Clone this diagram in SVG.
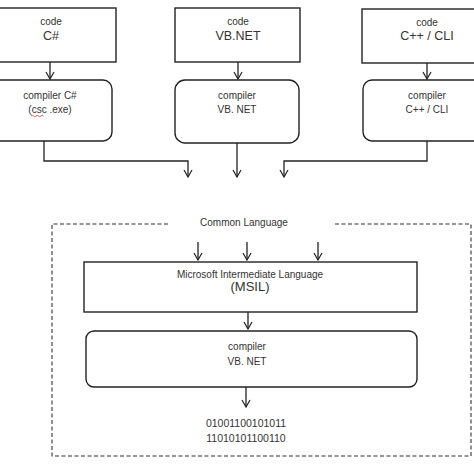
<svg xmlns="http://www.w3.org/2000/svg" width="474" height="474" viewBox="0 0 474 474">
<defs>
<marker id="ah" viewBox="-9 -5 10 10" refX="0" refY="0" markerWidth="10" markerHeight="10" markerUnits="userSpaceOnUse" orient="auto">
<path d="M-7,-4 L0,0 L-7,4" fill="none" stroke="#222" stroke-width="1.2"/>
</marker>
</defs>
<style>
.box{fill:#fff;stroke:#222;stroke-width:1.4}
.t{font-family:"Liberation Sans",Arial,sans-serif;fill:#333;text-anchor:middle}
.s{font-size:10px}
.l{font-size:12.5px}
.c{fill:none;stroke:#222;stroke-width:1.3}
.a{fill:none;stroke:#222;stroke-width:1.3;marker-end:url(#ah)}
.d{fill:none;stroke:#333;stroke-width:1.1;stroke-dasharray:4,2.5}
</style>
<rect width="474" height="474" fill="#fff"/>

<g id="code-cs">
<rect class="box" x="-10" y="8" width="126" height="54"/>
<text class="t s" x="51" y="25">code</text>
<text class="t l" x="51" y="40">C#</text>
</g>
<g id="code-vb">
<rect class="box" x="175" y="8" width="125" height="54"/>
<text class="t s" x="238" y="25">code</text>
<text class="t l" x="238" y="40">VB.NET</text>
</g>
<g id="code-cpp">
<rect class="box" x="362" y="9" width="130" height="54"/>
<text class="t s" x="427" y="26">code</text>
<text class="t l" x="427" y="40">C++ / CLI</text>
</g>

<g id="compiler-cs">
<rect class="box" x="-20" y="80" width="132" height="61" rx="9"/>
<text class="t s" x="50" y="99">compiler C#</text>
<text class="t s" x="50" y="113">(csc .exe)</text>
<path d="M31,116 q1.25,-1.5 2.5,0 t2.5,0 t2.5,0 t2.5,0 t2.5,0" fill="none" stroke="#d33" stroke-width="0.8"/>
</g>
<g id="compiler-vb">
<rect class="box" x="175" y="80" width="124" height="63" rx="10"/>
<text class="t s" x="237" y="99">compiler</text>
<text class="t s" x="237" y="113">VB. NET</text>
</g>
<g id="compiler-cpp">
<rect class="box" x="363" y="80" width="130" height="61" rx="9"/>
<text class="t s" x="427" y="99">compiler</text>
<text class="t s" x="427" y="113">C++ / CLI</text>
</g>

<g id="common-language">
<path class="d" d="M168,224 H52 V456 H471 V224 H334"/>
<text class="t s" x="244" y="226">Common Language</text>
</g>

<g id="msil">
<rect class="box" x="84" y="262" width="333" height="50"/>
<text class="t s" x="250" y="278">Microsoft Intermediate Language</text>
<text class="t" style="font-size:13px" x="250" y="291">(MSIL)</text>
</g>
<g id="compiler-final">
<rect class="box" x="86" y="331" width="331" height="56" rx="8"/>
<text class="t s" x="247" y="350">compiler</text>
<text class="t s" x="247" y="365">VB. NET</text>
</g>
<g id="binary">
<text class="t" style="font-size:10.5px" x="246" y="427">01001100101011</text>
<text class="t" style="font-size:10.5px" x="246" y="442">11010101100110</text>
</g>

<g id="connectors">
<line class="a" x1="50" y1="62" x2="50" y2="79"/>
<line class="a" x1="238" y1="62" x2="238" y2="79"/>
<line class="a" x1="427" y1="63" x2="427" y2="79"/>
<path class="a" d="M44,141 V161 H188 V177"/>
<line class="a" x1="237" y1="143" x2="237" y2="177"/>
<path class="a" d="M427,141 V161 H284 V177"/>
<line class="a" x1="198" y1="242" x2="198" y2="260"/>
<line class="a" x1="247" y1="242" x2="247" y2="260"/>
<line class="a" x1="318" y1="242" x2="318" y2="260"/>
<line class="a" x1="248" y1="312" x2="248" y2="329"/>
<line class="a" x1="246" y1="387" x2="246" y2="407"/>
</g>
</svg>
